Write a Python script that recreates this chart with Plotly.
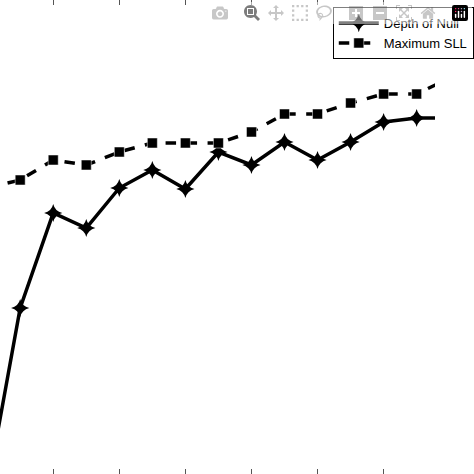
import plotly.graph_objects as go

x = list(range(0, 15))
depth_of_null = [-49.0, -30.8, -21.3, -22.8, -18.8, -17.0, -18.9, -15.2, -16.5, -14.2, -16.0, -14.2, -12.2, -11.8, -11.8]
max_sll = [-18.8, -18.0, -16.0, -16.5, -15.2, -14.3, -14.3, -14.3, -13.2, -11.4, -11.4, -10.3, -9.4, -9.4, -7.8]
xticks = [2, 4, 6, 8, 10, 12]

fig = go.Figure()
fig.add_trace(go.Scatter(x=x, y=depth_of_null, name="Depth of Null", mode="lines+markers",
                         line=dict(color="black", width=3.5),
                         marker=dict(symbol="star-diamond", size=13, color="black")))
fig.add_trace(go.Scatter(x=x, y=max_sll, name="Maximum SLL", mode="lines+markers",
                         line=dict(color="black", width=3.5, dash="dash"),
                         marker=dict(symbol="square", size=10, color="black",
                                     line=dict(color="white", width=0.5))))
fig.update_layout(
    width=474, height=474, margin=dict(l=0, r=0, t=0, b=0),
    plot_bgcolor="white", paper_bgcolor="white", showlegend=True,
    legend=dict(x=0.765, y=0.985, xanchor="left", yanchor="top",
                bgcolor="white", bordercolor="black", borderwidth=1,
                font=dict(family="Liberation Sans", size=13, color="black"),
                tracegroupgap=0, itemwidth=40),
)
fig.update_xaxes(range=[(0 + 14) / 36, (474 + 14) / 36], tickvals=xticks, ticks="inside",
                 ticklen=5, tickcolor="#555", mirror="ticks", showline=False,
                 showgrid=False, zeroline=False, showticklabels=False)
fig.update_yaxes(range=[-47.4, 0], showgrid=False, zeroline=False, showticklabels=False,
                 ticks="", showline=False)
fig.write_html("out.html",
               post_script="document.body.style.margin='0';document.body.style.overflow='hidden';")
